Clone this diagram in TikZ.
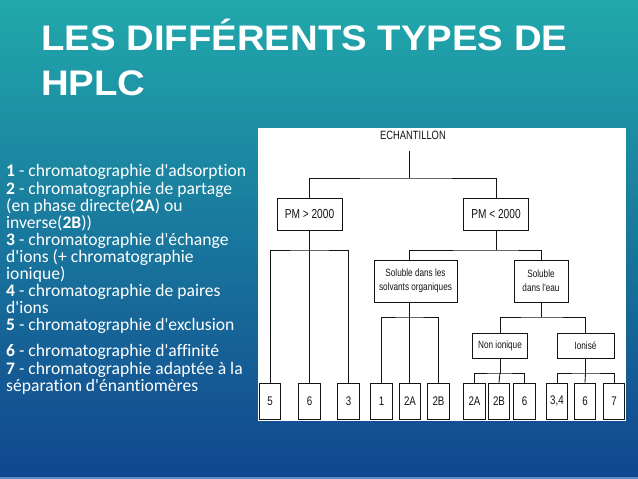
\documentclass[tikz,border=0pt]{standalone}
\usepackage{fontspec}
\setmainfont{Carlito}[Ligatures={TeXOff,CommonOff}]
\newfontfamily\titlefont[FakeStretch=1.08]{Liberation Sans}
\newfontfamily\diagfont[FakeStretch=0.78,Ligatures={TeXOff,CommonOff}]{Liberation Sans}
\usetikzlibrary{positioning}
\definecolor{slidetop}{HTML}{21A8AB}
\definecolor{slidemid}{HTML}{1A7AA7}
\definecolor{slidebot}{HTML}{11468F}
\definecolor{slideedge}{HTML}{5C8CC8}
\definecolor{ink}{HTML}{141414}
\tikzset{
  titletext/.style={font=\titlefont\fontsize{35.5}{46}\selectfont\bfseries,text=white,anchor=base west,inner sep=0pt},
  listtext/.style={font=\fontsize{17.6}{17.1}\selectfont,text=white,align=left,anchor=north west,inner sep=0pt},
  box/.style={draw=ink,fill=white,line width=0.9pt,text=ink,font=\diagfont\fontsize{13}{14}\selectfont,align=center,inner sep=1pt},
  smallbox/.style={box,font=\diagfont\fontsize{10.5}{14}\selectfont},
  leaf/.style={box,minimum width=21.5pt,minimum height=36pt,font=\diagfont\fontsize{12.5}{14}\selectfont},
  link/.style={draw=ink,line width=0.9pt},
}

\begin{document}
\begin{tikzpicture}[x=1pt,y=-1pt]
\useasboundingbox (0,0) rectangle (638,479);
\shade[top color=slidetop,middle color=slidemid,bottom color=slidebot] (0,0) rectangle (638,479);
\fill[slideedge] (0,477) rectangle (638,479);

% title
\node[titletext] (ttl1) at (41,50) {LES DIFFÉRENTS TYPES DE};
\node[titletext] (ttl2) at (41,95) {HPLC};

% legend of the types
\node[listtext] (types) at (6,164.5) {\textbf{1} - chromatographie d'adsorption\\
\textbf{2} - chromatographie de partage\\
(en phase directe(\textbf{2A}) ou\\
inverse(\textbf{2B}))\\
\textbf{3} - chromatographie d'échange\\
d'ions (+ chromatographie\\
ionique)\\
\textbf{4} - chromatographie de paires\\
d'ions\\
\textbf{5} - chromatographie d'exclusion\\[9pt]
\textbf{6} - chromatographie d'affinité\\
\textbf{7} - chromatographie adaptée à la\\
séparation d'énantiomères};

% white sheet of the tree
\fill[white] (258,128) rectangle (626,421);

\node[text=ink,font=\diagfont\fontsize{12}{14}\selectfont,inner xsep=0pt,inner ysep=12pt] (ech) at (413,135) {ECHANTILLON};

\node[box,minimum width=65pt,minimum height=32pt] (pmgt) at (309.5,214) {PM > 2000};
\node[box,minimum width=65pt,minimum height=32pt] (pmlt) at (496,214) {PM < 2000};

\node[smallbox,minimum width=83pt,minimum height=42pt] (sorg) at (415.5,281) {Soluble dans les\\solvants organiques};
\node[smallbox,minimum width=54pt,minimum height=42pt] (seau) at (541,281) {Soluble\\dans l'eau};

\node[smallbox,minimum width=55pt,minimum height=25pt] (nonion) at (500,345.5) {Non ionique};
\node[smallbox,minimum width=57pt,minimum height=25pt] (ionise) at (585.5,345.5) {Ionisé};

% bottom row
\node[leaf] (l5) at (270,401) {5};
\node[leaf] (l6) at (309.5,401) {6};
\node[leaf] (l3) at (348.5,401) {3};
\node[leaf] (l1) at (381.5,401) {1};
\node[leaf] (l2a) at (410,401) {2A};
\node[leaf] (l2b) at (438.5,401) {2B};
\node[leaf] (w2a) at (474.5,401) {2A};
\node[leaf] (w2b) at (499,401) {2B};
\node[leaf] (w6) at (524.5,401) {6};
\node[leaf] (w34) at (557,401) {3,4};
\node[leaf] (w6b) at (585,401) {6};
\node[leaf] (w7) at (614,401) {7};

% junctions
\coordinate (jroot) at (409,178);
\coordinate (jheavy) at (309.5,250);
\coordinate (jlight) at (496,250);
\coordinate (jorg) at (409,317);
\coordinate (jeau) at (541,317);
\coordinate (jnon) at (500,373);
\coordinate (jion) at (585.5,373);

\draw[link] (ech.south -| jroot) -- (jroot);
\draw[link] (pmgt.north) |- (jroot) -| (pmlt.north);

\draw[link] (pmgt.south) -- (l6.north);
\draw[link] (l5.north) |- (jheavy) -| (l3.north);

\draw[link] (pmlt.south) -- (jlight);
\draw[link] (sorg.north -| jorg) |- (jlight) -| (seau.north);

\draw[link] (sorg.south -| jorg) -- (jorg);
\draw[link] (l1.north) |- (jorg) -| (l2b.north);
\draw[link] (jorg) -- (l2a.north -| jorg);

\draw[link] (seau.south) -- (jeau);
\draw[link] (nonion.north) |- (jeau) -| (ionise.north);

\draw[link] (nonion.south) -- (jnon);
\draw[link] (w2a.north) |- (jnon) -| (w6.north);
\draw[link] (jnon) -- (w2b.north);

\draw[link] (ionise.south) -- (jion);
\draw[link] (w34.north) |- (jion) -| (w7.north);
\draw[link] (jion) -- (w6b.north);

\end{tikzpicture}
\end{document}
